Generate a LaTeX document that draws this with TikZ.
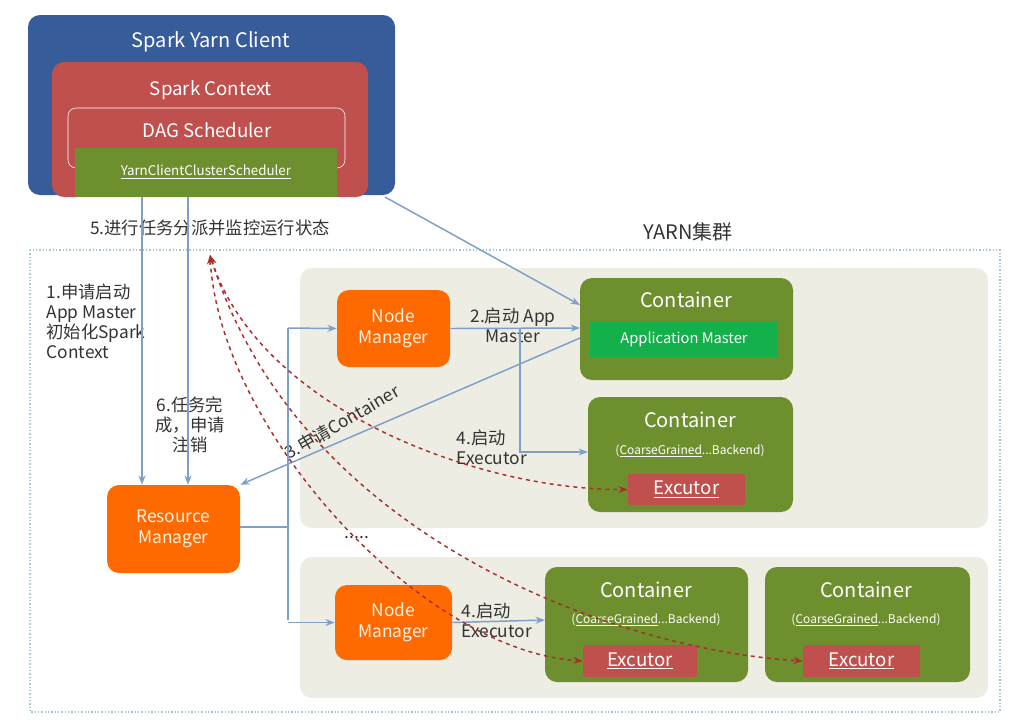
\documentclass[tikz,border=0pt]{standalone}
\usepackage{fontspec}
\setmainfont{Noto Sans CJK SC}
\usetikzlibrary{arrows.meta}
\definecolor{cblue}{HTML}{365C99}
\definecolor{cred}{HTML}{C0504D}
\definecolor{cgreen}{HTML}{6E8F2E}
\definecolor{cbright}{HTML}{14B04C}
\definecolor{corange}{HTML}{FF6A00}
\definecolor{cbeige}{HTML}{EEEDE4}
\definecolor{carrow}{HTML}{7E9FC8}
\definecolor{cdash}{HTML}{A9302A}
\begin{document}
\begin{tikzpicture}[x=0.75pt,y=-0.75pt,
  box/.style={rounded corners=9pt},
  wt/.style={text=white,font=\fontsize{14}{16}\selectfont},
  mgr/.style={fill=corange,box,align=center,font=\fontsize{13}{16}\selectfont,text=white!90!orange},
  lab/.style={text=black!80,font=\fontsize{13}{15}\selectfont,align=left,inner sep=1pt},
  arr/.style={draw=carrow,line width=1.1pt,-{Stealth[length=7pt]}},
  dsh/.style={draw=cdash,line width=1.1pt,dash pattern=on 3pt off 3pt,{Stealth[length=7pt]}-{Stealth[length=7pt]}}]
\useasboundingbox (0,0) rectangle (1013,722);
% client
\fill[cblue,box] (28,15) rectangle (395,195);
\node[wt,font=\fontsize{15}{17}\selectfont] at (211,42) {Spark Yarn Client};
\fill[cred,box] (52,62) rectangle (368,197);
\node[wt] at (211,90) {Spark Context};
\draw[white,rounded corners=6pt] (68,108) rectangle (345,168);
\node[wt] at (207,130) {DAG Scheduler};
\fill[cgreen] (75,148) rectangle (337,197);
\node[wt,font=\fontsize{10}{12}\selectfont] (ycs) at (206,172) {\underline{YarnClientClusterScheduler}};
\coordinate (c1) at (142,197); \coordinate (c2) at (188,197); \coordinate (c3) at (385,197);
\coordinate (ctop) at (210,255);
\node[lab] at (210,228) {5.进行任务分派并监控运行状态};
\node[lab,font=\fontsize{15}{17}\selectfont] at (688,232) {YARN集群};
% cluster
\draw[cyan!40!gray!60,dash pattern=on 1pt off 1.5pt,line width=0.8pt] (30,250) rectangle (1000,712);
\fill[cbeige,box] (300,268) rectangle (988,528);
\fill[cbeige,box] (300,557) rectangle (988,698);
% node managers
\node[mgr,minimum width=113pt*0.75,minimum height=77pt*0.75] (nm1) at (393.5,328.5) {Node\\Manager};
\node[mgr,minimum width=117pt*0.75,minimum height=75pt*0.75] (nm2) at (393.5,622.5) {Node\\Manager};
\node[mgr,minimum width=133pt*0.75,minimum height=88pt*0.75] (rm) at (173.5,529) {Resource\\Manager};
% containers
\fill[cgreen,box] (580,278) rectangle (793,380);
\node[wt,font=\fontsize{15}{17}\selectfont] at (686,300) {Container};
\node[fill=cbright,wt,font=\fontsize{11}{13}\selectfont,minimum width=188pt*0.75,minimum height=35pt*0.75] (am) at (684,339.5) {Application Master};
\coordinate (k1) at (580,305);
\coordinate (k1b) at (580,328);
\coordinate (k1c) at (580,338);
\fill[cgreen,box] (588,397) rectangle (793,512);
\node[wt,font=\fontsize{15}{17}\selectfont] at (690,420) {Container};
\node[wt,font=\fontsize{9}{11}\selectfont] at (690,451) {(\underline{CoarseGrained}...Backend)};
\coordinate (k2) at (588,452);
\node[fill=cred,wt,minimum width=117pt*0.75,minimum height=31pt*0.75,rounded corners=2pt] (e1) at (686.5,489.5) {\underline{Excutor}};
\fill[cgreen,box] (545,567) rectangle (748,682);
\node[wt,font=\fontsize{15}{17}\selectfont] at (646,590) {Container};
\node[wt,font=\fontsize{9}{11}\selectfont] at (646,620) {(\underline{CoarseGrained}...Backend)};
\coordinate (k3) at (545,620);
\node[fill=cred,wt,minimum width=114pt*0.75,minimum height=32pt*0.75,rounded corners=2pt] (e3) at (640,661) {\underline{Excutor}};
\fill[cgreen,box] (765,567) rectangle (970,682);
\node[wt,font=\fontsize{15}{17}\selectfont] at (866,590) {Container};
\node[wt,font=\fontsize{9}{11}\selectfont] at (866,620) {(\underline{CoarseGrained}...Backend)};
\node[fill=cred,wt,minimum width=117pt*0.75,minimum height=32pt*0.75,rounded corners=2pt] (e4) at (861.5,661) {\underline{Excutor}};
% labels
\node[lab,anchor=north west] at (45,282) {1.申请启动\\App Master\\初始化Spark\\Context};
\node[lab,align=center] at (190,425) {6.任务完\\成，申请\\注销};
\node[lab,align=center] at (513,325) {2.启动 App\\Master};
\node[lab,rotate=30] at (342,422) {3.申请Container};
\node[lab,anchor=west] at (455,447) {4.启动\\Executor};
\node[lab,anchor=west] at (460,620) {4.启动\\Executor};
\node[lab] at (357,538) {.....};
% blue connectors
\draw[arr] (c1) -- (c1 |- rm.north);
\draw[arr] (c2) -- (c2 |- rm.north);
\draw[arr] (c3) -- (k1);
\coordinate (j) at (288,527);
\draw[draw=carrow,line width=1.1pt] (rm.east |- j) -- (j);
\draw[draw=carrow,line width=1.1pt] (288,328) -- (288,620);
\draw[arr] (288,328) -- (nm1.west);
\draw[arr] (288,622.5) -- (nm2.west);
\draw[arr] (nm1.east) -- (k1b);
\draw[arr] (520,328) -- (520,452) -- (k2);
\draw[arr] (nm2.east) -- (k3);
\draw[arr] (k1c) -- (rm.north east);
% red dashed
\draw[dsh] (ctop) .. controls (260,410) and (480,490) .. (e1.west);
\draw[dsh] (ctop) .. controls (220,430) and (420,650) .. (e3.west);
\draw[dsh] (ctop) .. controls (300,540) and (620,650) .. (e4.west);
\end{tikzpicture}
\end{document}
